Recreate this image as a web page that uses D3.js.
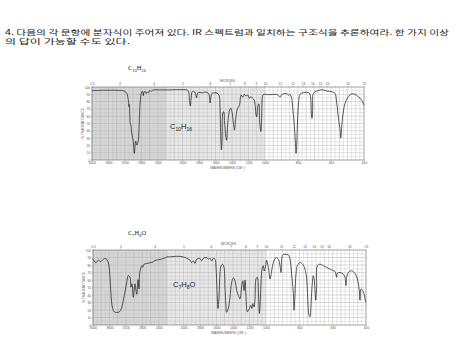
<!DOCTYPE html>
<html><head><meta charset="utf-8">
<script src="https://cdn.jsdelivr.net/npm/d3@7"></script>
<style>html,body{margin:0;padding:0;background:#fff;}svg{display:block;}</style>
</head><body>
<svg id="c" width="474" height="356"></svg>
<script>
// ---------- data ----------
const titleLines = ["4. 다음의 각 문항에 분자식이 주어져 있다. IR 스펙트럼과 일치하는 구조식을 추론하여라. 한 가지 이상", "의 답이 가능할 수도 있다."];
const wavenumberTicks = [4000,3600,3200,2800,2400,2000,1800,1600,1400,1200,1000,800,600,400];
const micronTicks = [2.5,3,4,5,6,7,8,9,10,11,12,13,14,15,16,20,25];
const transmittanceTicks = [0,10,20,30,40,50,60,70,80,90,100];

// Spectrum 1 : C10H16
const spec1Wn = [4000,3700,3400,3250,3200,3150,3130,3110,3100,3092,3080,3070,3055,3040,3030,3010,2995,2980,2970,2955,2940,2930,2915,2900,2885,2870,2855,2845,2830,2815,2795,2770,2750,2735,2700,2680,2660,2630,2600,2560,2520,2400,2200,
 1950,1930,1915,1905,1895,1880,1850,1830,1815,1790,1760,1730,1700,1680,1665,1645,1610,1580,1555,1545,1535,1528,1520,1510,1500,1490,1475,1465,1455,1440,1430,1415,1400,1385,1370,1355,1335,1310,1290,1270,1250,1230,1210,1190,1170,1150,1130,1115,1110,1100,1085,1075,1065,1050,1040,1025,1010,
 1000,970,939,921,909,899,889,868,859,849,838,832,824,816,812,808,803,796,788,768,747,731,723,719,715,711,707,687,667,646,626,596,576,566,556,545,541,535,529,515,495,474,455,435,414,400];
const spec1T = [95,95.5,95.5,95,94,91,86.7,79,73,76,62,50,48,40,36,30,25,15,9,18,26,25,21,20.5,24,28,45,62,78,87,93,94,88,93,93.6,91,93,92,95,94,95.9,96,96,
 96,95,80,74,85,94,93,85,92,92.5,92,93,92.5,90,78,91,92,91.5,88,70,30,14,30,65,66,52,32,27,45,62,68,71,66,52,41,57,70,75,89,86,90,87.7,89,84.5,86.8,84.5,82,70,63,59,75,77,52,39,60,89,90,
 90,89.5,90,89,86,89.5,90.5,91,88.6,90,84.5,71,52.5,25,9,20,52,80,90,92.2,92.7,91.5,84.5,64,57,70,91,94.5,96,96,94.5,93.6,91.3,80,59,41,30,45,60,77.6,86.8,90.5,90,86.8,82,75];

// Spectrum 2 : C7H8O
const spec2Wn = [4000,3930,3871,3813,3749,3684,3652,3618,3587,3562,3530,3482,3424,3360,3302,3263,3222,3180,3141,3100,3076,3052,3020,2996,2979,2937,2905,2881,2864,2840,2816,2796,2760,2694,2614,2541,2492,2412,2329,2225,
 2200,2164,2082,2002,1961,1921,1901,1881,1860,1840,1800,1779,1759,1719,1699,1679,1658,1639,1618,1606,1594,1582,1570,1558,1545,1525,1509,1497,1485,1479,1457,1436,1416,1396,1376,1355,1335,1315,1294,1282,1266,1254,1242,1226,1213,1201,1184,1172,1160,1145,1133,1121,1105,1092,1080,1073,1061,1048,1033,1021,1008,
 996,986,976,966,956,940,926,916,910,906,900,886,866,856,846,836,832,826,820,812,796,780,766,756,750,742,736,730,724,716,710,702,696,692,676,656,636,616,596,586,576,572,556,536,526,520,516,506,486,466,452,440,436,430,420,412,404,400];
const spec2T = [88,83,86.4,84.6,87.7,88.6,86.4,81,63.6,41.7,24,17.5,16.7,17.5,23,33,44,57,66,63.6,50.4,55,37,48,55,41,60.5,48,70,75,79,77,81,82,83,84,86,87,88,90,
 91,90.8,91.7,90.8,89,86.4,83.3,85.5,82,87.7,88.6,85.5,89,89.9,87.7,89,85.5,89,87.7,76.8,46,22,37,68,79,81,76.8,50.4,24,17,22,37,57,62.7,59,46,39.5,35,52.6,59,46,60,37,17.5,19.7,22,26.3,22,28.5,24,35,61.4,63.6,43.9,15.4,24,54.8,74.6,79,72,76.8,
 86.4,76.8,61.4,72,83.3,89.9,87.7,79,70,87.7,93.4,94.3,93.4,87.7,68,41.7,19.7,41.7,68,79,83.3,81,74.6,61.4,37,13,11,26.3,50.4,65.8,59,33,50.4,79,81,79,76.8,74.6,72.4,71.5,63.6,68.9,70,68,63.6,52.6,63.6,70,72.4,68.9,61.4,46,33,48,46,41.7,33,30];

const charts = [
  {formula:["C","10","H","16",""], wn:spec1Wn, t:spec1T, xr:[92,166,265,364], yr:[160,87], fx:128, fy:70, ix:170, iy:129},
  {formula:["C","7","H","8","O"], wn:spec2Wn, t:spec2T, xr:[93,167,266,366], yr:[325,250], fx:128, fy:235, ix:173, iy:287}
];

// ---------- drawing ----------
const svg = d3.select("#c");
const FONT = "'Liberation Sans', Arial, sans-serif";

// title
titleLines.forEach((s,i)=>{
  svg.append("text").attr("x",5).attr("y",35+i*8.6)
    .attr("font-family","'Noto Sans CJK KR', sans-serif").attr("font-size",7.2)
    .attr("fill","#1a1a1a").attr("textLength", i===0?444:125).attr("lengthAdjust","spacingAndGlyphs")
    .text(s);
});

function formulaText(g, parts, x, y, size, family){
  const t = g.append("text").attr("x",x).attr("y",y).attr("font-family",family).attr("font-size",size).attr("fill","#222");
  t.append("tspan").text(parts[0]);
  t.append("tspan").attr("font-size",size*0.68).attr("dy",size*0.25).text(parts[1]);
  t.append("tspan").attr("dy",-size*0.25).text(parts[2]);
  t.append("tspan").attr("font-size",size*0.68).attr("dy",size*0.25).text(parts[3]);
  if(parts[4]) t.append("tspan").attr("dy",-size*0.25).text(parts[4]);
}

charts.forEach(ch=>{
  const x = d3.scaleLinear().domain([4000,2200,1000,400]).range(ch.xr);
  const y = d3.scaleLinear().domain([0,100]).range(ch.yr);
  const g = svg.append("g");
  const top = y(100), bot = y(0);

  // shaded regions
  g.append("rect").attr("x",x(4000)).attr("y",top).attr("width",x(2200)-x(4000)).attr("height",bot-top).attr("fill","#d6d6d6");
  g.append("rect").attr("x",x(2200)).attr("y",top).attr("width",x(1000)-x(2200)).attr("height",bot-top).attr("fill","#e8e8e8");
  g.append("rect").attr("x",x(1000)).attr("y",top).attr("width",x(400)-x(1000)).attr("height",bot-top).attr("fill","#fff");

  // vertical grid
  const vg = [];
  d3.range(4000,2200,-100).forEach((v,i)=>vg.push([v,i%2===0]));
  d3.range(2200,1000,-50).forEach((v,i)=>vg.push([v,i%2===0]));
  d3.range(1000,400,-25).forEach((v,i)=>vg.push([v,i%2===0]));
  g.selectAll(null).data(vg).enter().append("line")
    .attr("x1",d=>x(d[0])).attr("x2",d=>x(d[0])).attr("y1",top).attr("y2",bot)
    .attr("stroke",d=>d[1]?"#a8a8a8":"#c6c6c6").attr("stroke-width",0.4);
  // horizontal grid
  g.selectAll(null).data(d3.range(5,100,5)).enter().append("line")
    .attr("x1",x(4000)).attr("x2",x(400)).attr("y1",d=>y(d)).attr("y2",d=>y(d))
    .attr("stroke",d=>d%10===0?"#a8a8a8":"#c6c6c6").attr("stroke-width",0.4);

  // frame
  g.append("rect").attr("x",x(4000)).attr("y",top).attr("width",x(400)-x(4000)).attr("height",bot-top)
    .attr("fill","none").attr("stroke","#666").attr("stroke-width",0.6);

  // axes
  const ax = d3.axisBottom(x).tickValues(wavenumberTicks).tickSize(1).tickPadding(0.8).tickFormat(d3.format("d"));
  const gx = g.append("g").attr("transform",`translate(0,${bot})`).call(ax);
  const ay = d3.axisLeft(y).tickValues(transmittanceTicks).tickSize(1).tickPadding(1);
  const gy = g.append("g").attr("transform",`translate(${x(4000)},0)`).call(ay);
  const at = d3.axisTop(x).tickValues(micronTicks.map(m=>10000/m)).tickSize(1.2).tickPadding(0.8)
    .tickFormat(d=>d3.format("~g")(Math.round(10000/d*10)/10));
  const gt = g.append("g").attr("transform",`translate(0,${top})`).call(at);
  [gx,gy,gt].forEach(a=>{
    a.select(".domain").remove();
    a.selectAll("text").attr("font-family",FONT).attr("font-size",3.2).attr("fill","#555");
    a.selectAll("line").attr("stroke","#777").attr("stroke-width",0.4);
  });

  // axis titles
  g.append("text").attr("x",(x(2200)+x(1000))/2+12).attr("y",top-5.5).attr("text-anchor","middle")
    .attr("font-family",FONT).attr("font-size",3.2).attr("fill","#555").text("MICRONS");
  g.append("text").attr("x",(x(2200)+x(1000))/2+12).attr("y",bot+9.2).attr("text-anchor","middle")
    .attr("font-family",FONT).attr("font-size",3.2).attr("fill","#555").text("WAVENUMBERS (CM⁻¹)");
  g.append("text").attr("transform",`translate(${x(4000)-8},${(top+bot)/2}) rotate(-90)`).attr("text-anchor","middle")
    .attr("font-family",FONT).attr("font-size",3.2).attr("fill","#555").text("% TRANSMITTANCE");

  // spectrum
  const pts = ch.wn.map((w,i)=>[w,ch.t[i]]);
  const line = d3.line().x(d=>x(d[0])).y(d=>y(d[1])).curve(d3.curveCatmullRom.alpha(0.5));
  g.append("path").attr("d",line(pts)).attr("fill","none").attr("stroke","#222").attr("stroke-width",0.75).attr("stroke-linejoin","round");

  // formula labels
  formulaText(g, ch.formula, ch.fx, ch.fy, 6.5, "'Liberation Serif', serif");
  formulaText(g, ch.formula, ch.ix, ch.iy, 7.5, FONT);
});
</script>
</body></html>
